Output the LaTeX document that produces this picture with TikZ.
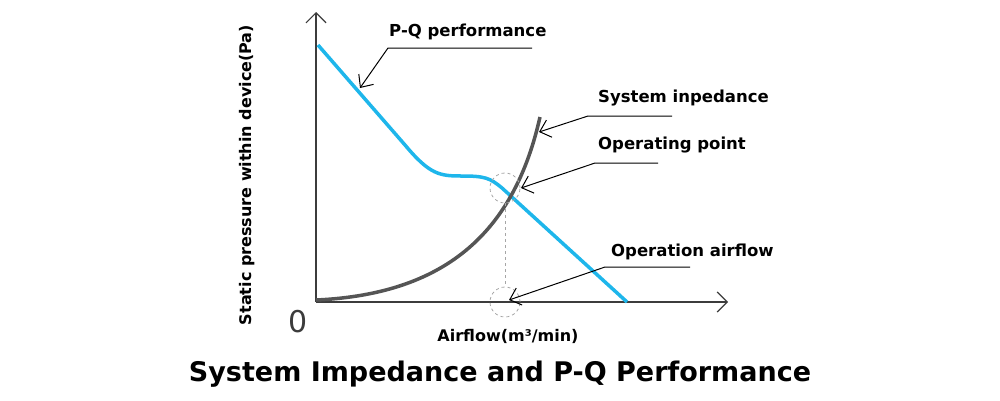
\documentclass[tikz,border=0pt]{standalone}
\usepackage{fontspec}
\setmainfont{DejaVu Sans}
\usetikzlibrary{arrows.meta}
\begin{document}
\begin{tikzpicture}[x=1pt,y=-1pt,
  axis/.style={line width=1.2pt,draw={rgb,255:red,60;green,60;blue,60},-{Straight Barb[length=10pt,width=20pt,line width=1.2pt]}},
  lead/.style={line width=1pt,-{Straight Barb[length=10pt,width=18pt,line width=1pt]}},
  lbl/.style={font=\fontsize{16.5}{18}\selectfont\bfseries,anchor=west,inner sep=0},
  dcirc/.style={draw=gray!70,dashed,line width=0.8pt,circle,minimum size=30pt,inner sep=0}]
\useasboundingbox (0,0) rectangle (1000,400);
\coordinate (O) at (316,302);
\coordinate (Ytop) at (316,12);
\coordinate (Xend) at (728,302);
\draw[axis] (O) -- (Ytop);
\draw[axis] (O) -- (Xend);
% P-Q curve
\draw[line width=3.5pt,color={rgb,255:red,30;green,182;blue,235},line cap=butt]
  (318,45) -- (405,145) .. controls (430,175) and (440,176) .. (462,176)
  .. controls (485,176) and (490,178) .. (502,188) -- (627,302);
% System impedance
\draw[line width=3.5pt,color={rgb,255:red,85;green,85;blue,85}]
  (316,300) .. controls (450,294) and (515,228) .. (540,117);
\node[dcirc] (op) at (505,188) {};
\node[dcirc] (oa) at (505,302) {};
\draw[gray!70,dashed,line width=0.8pt] (op.south) -- (oa.north);
% labels and leaders
\node[lbl] (pq) at (389,32) {P-Q performance};
\coordinate (pqa) at (360,88);
\draw[lead] (532,48) -- (388,48) -- (pqa);
\node[lbl] (si) at (598,98) {System inpedance};
\coordinate (sia) at (539,132);
\draw[lead] (672,116) -- (588,116) -- (sia);
\node[lbl] (opl) at (598,145) {Operating point};
\coordinate (opa) at (521,188);
\draw[lead] (658,163) -- (595,163) -- (opa);
\node[lbl] (oal) at (611,252) {Operation airflow};
\coordinate (oaa) at (509,300);
\draw[lead] (690,267) -- (605,267) -- (oaa);
% axis labels
\node[font=\fontsize{16}{18}\selectfont\bfseries,rotate=90] (yl) at (247,175) {Static pressure within device(Pa)};
\node[font=\fontsize{30}{32}\selectfont,color={rgb,255:red,60;green,60;blue,60}] (zero) at (298,322) {0};
\node[font=\fontsize{16}{18}\selectfont\bfseries] (xl) at (508,336) {Airflow(m³/min)};
\node[font=\fontsize{27}{30}\selectfont\bfseries] (title) at (500,374) {System Impedance and P-Q Performance};
\end{tikzpicture}
\end{document}
